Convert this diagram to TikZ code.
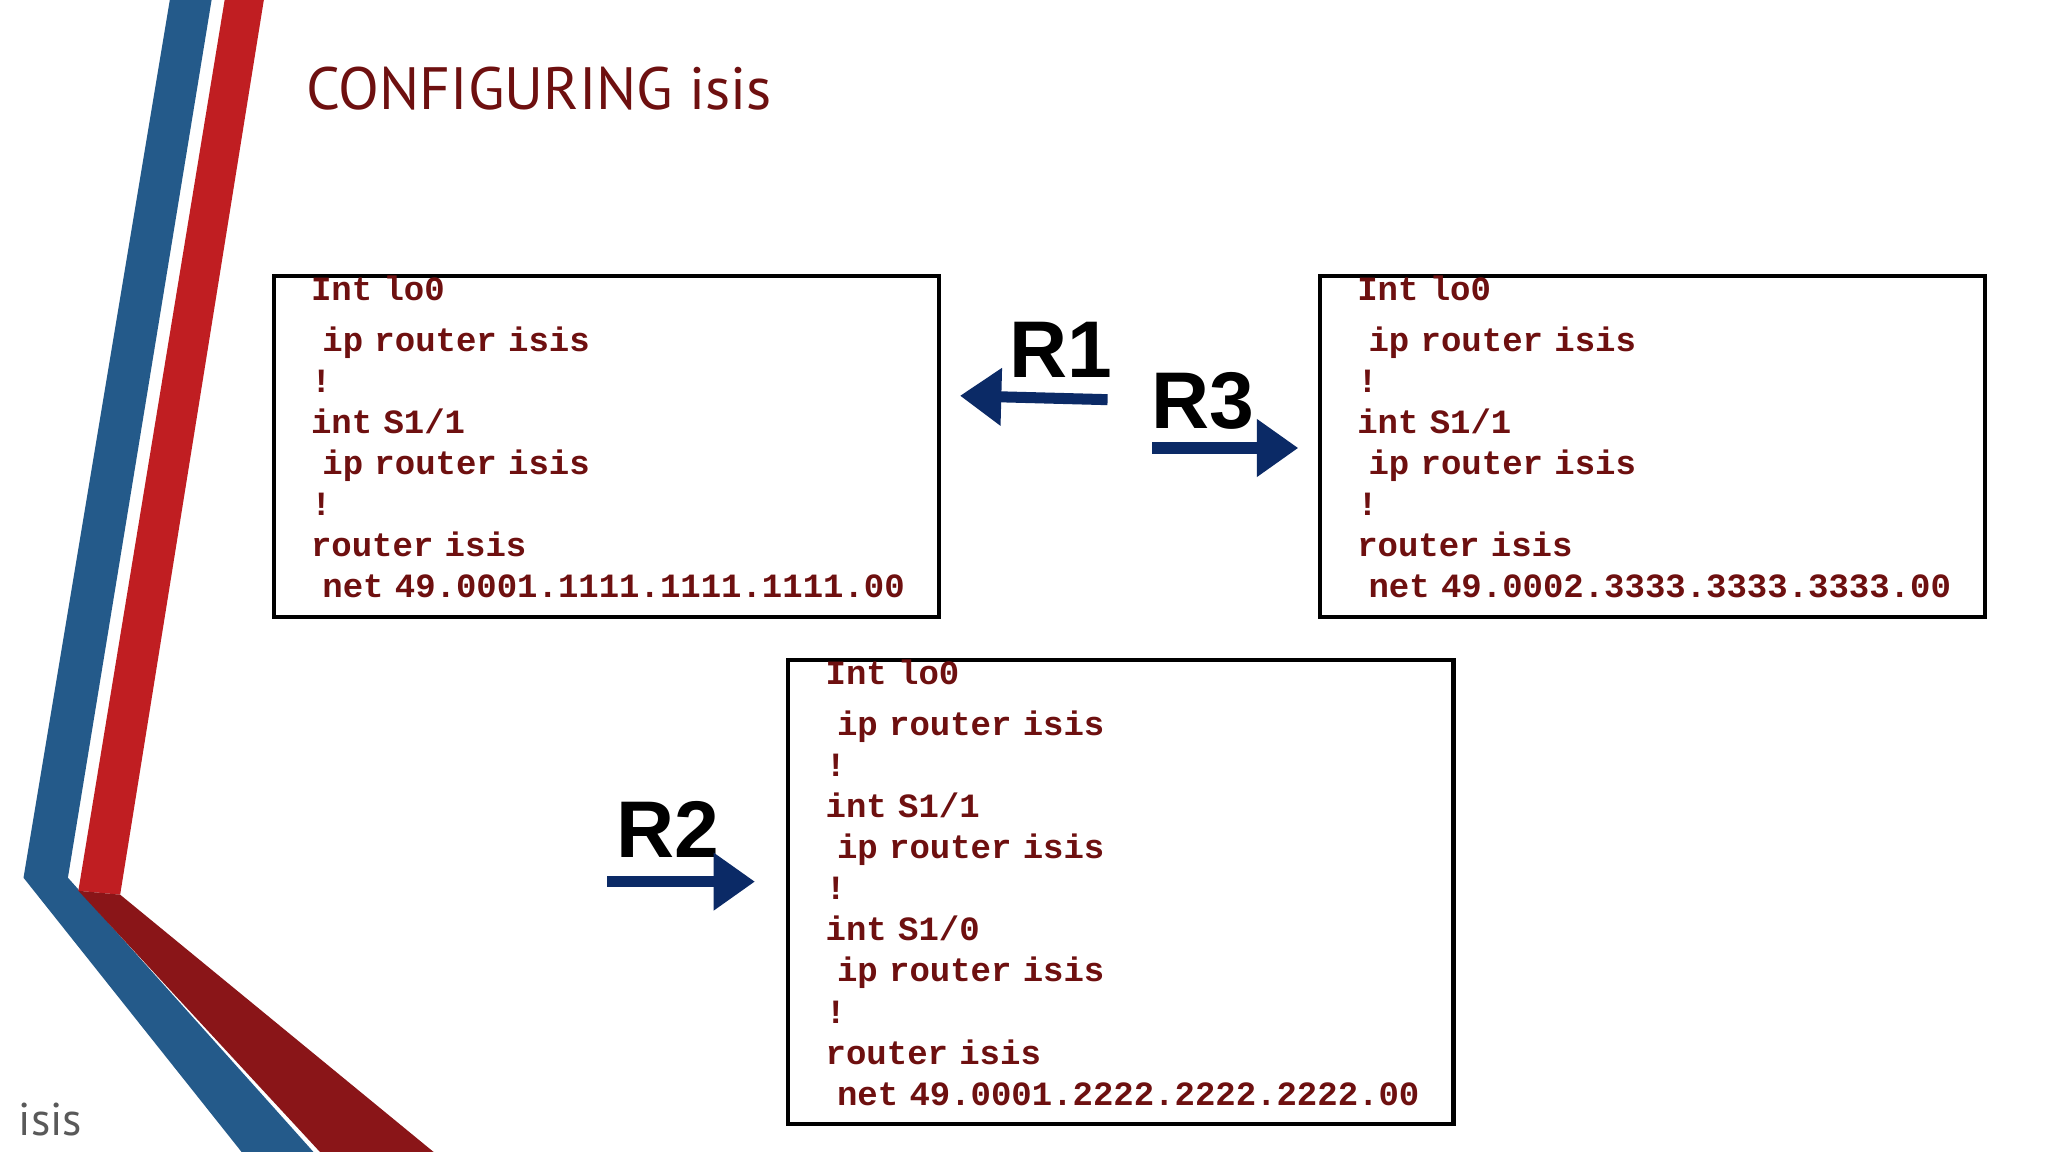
\documentclass[tikz,border=0pt]{standalone}
\usepackage{fontspec}
\setmainfont{Liberation Sans}
\newfontfamily\codefont{Liberation Mono}
\newfontfamily\titlefont{PT Sans}
\usetikzlibrary{arrows.meta}
\definecolor{dred}{HTML}{6E1010}
\definecolor{sblue}{HTML}{245A8A}
\definecolor{sred}{HTML}{C01E22}
\definecolor{sdred}{HTML}{8A1518}
\definecolor{navy}{HTML}{0B2A66}
\tikzset{
 codebox/.style={draw=black,line width=0.9pt,anchor=north west,inner sep=0pt,minimum width=5.09cm,text width=4.8cm,align=left,font=\codefont\bfseries\fontsize{7.4}{8.95}\selectfont,text=dred},
 rlabel/.style={font=\bfseries\fontsize{17.5}{18}\selectfont,text=black},
 bigarrow/.style={navy,line width=2.4pt,-{Triangle[length=9pt,width=12pt]}}
}
\begin{document}
\begin{tikzpicture}[x=0.01cm,y=-0.01cm]
\useasboundingbox (0,0) rectangle (1568,882);
\fill[white] (0,0) rectangle (1568,882);
\fill[sblue] (130,0)--(162,0)--(52,672)--(240,882)--(185,882)--(18,672)--cycle;
\fill[sred] (172,0)--(202,0)--(92,685)--(60,682)--cycle;
\fill[sdred] (60,682)--(92,685)--(332,882)--(245,882)--cycle;
\node[anchor=west,text=dred,font=\titlefont\fontsize{13}{14}\selectfont] (title) at (222,68) {CONFIGURING isis};
\node[anchor=west,text=gray!70!black,font=\titlefont\fontsize{10}{11}\selectfont] (foot) at (2,857) {isis};
\node[codebox] (b1) at (208,210) {\vspace{2pt}\hspace*{4pt}Int lo0\\\hspace*{4pt} ip router isis\\\hspace*{4pt}!\\\hspace*{4pt}int S1/1\\\hspace*{4pt} ip router isis\\\hspace*{4pt}!\\\hspace*{4pt}router isis\\\hspace*{4pt} net 49.0001.1111.1111.1111.00\vspace{4pt}};
\node[codebox] (b3) at (1009,210) {\vspace{2pt}\hspace*{4pt}Int lo0\\\hspace*{4pt} ip router isis\\\hspace*{4pt}!\\\hspace*{4pt}int S1/1\\\hspace*{4pt} ip router isis\\\hspace*{4pt}!\\\hspace*{4pt}router isis\\\hspace*{4pt} net 49.0002.3333.3333.3333.00\vspace{4pt}};
\node[codebox] (b2) at (602,504) {\vspace{2pt}\hspace*{4pt}Int lo0\\\hspace*{4pt} ip router isis\\\hspace*{4pt}!\\\hspace*{4pt}int S1/1\\\hspace*{4pt} ip router isis\\\hspace*{4pt}!\\\hspace*{4pt}int S1/0\\\hspace*{4pt} ip router isis\\\hspace*{4pt}!\\\hspace*{4pt}router isis\\\hspace*{4pt} net 49.0001.2222.2222.2222.00\vspace{4pt}};
\node[rlabel] (r1) at (812,268) {R1};
\node[rlabel] (r3) at (921,307) {R3};
\node[rlabel] (r2) at (511,635) {R2};
\coordinate (a1s) at (848,306); \coordinate (a1e) at (735,303);
\coordinate (a3s) at (882,343); \coordinate (a3e) at (994,343);
\coordinate (a2s) at (465,675); \coordinate (a2e) at (578,675);
\draw[bigarrow] (a1s)--(a1e);
\draw[bigarrow] (a3s)--(a3e);
\draw[bigarrow] (a2s)--(a2e);
\end{tikzpicture}
\end{document}
